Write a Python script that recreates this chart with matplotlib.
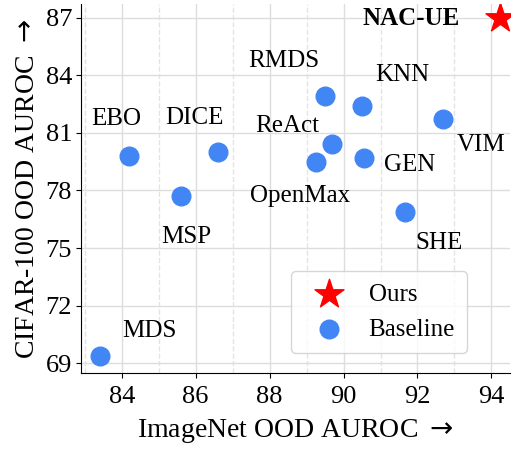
import matplotlib.pyplot as plt
from matplotlib.ticker import MultipleLocator

plt.rcParams['font.family'] = ['Liberation Serif', 'DejaVu Sans']
plt.rcParams['mathtext.fontset'] = 'dejavusans'

# Baseline methods: ImageNet AUROC, CIFAR-100 AUROC
names = ['EBO', 'DICE', 'MSP', 'MDS', 'RMDS', 'KNN', 'VIM', 'ReAct', 'OpenMax', 'GEN', 'SHE']
imagenet = [84.2, 86.6, 85.6, 83.4, 89.5, 90.5, 92.7, 89.7, 89.25, 90.55, 91.65]
cifar = [79.8, 80.0, 77.7, 69.4, 82.9, 82.4, 81.7, 80.4, 79.5, 79.7, 76.9]
# label offsets in pixels
offsets = [(-13, 37), (-23, 34), (5, -41), (50, 25), (-41, 35), (40, 31),
           (38, -26), (-45, 18), (-16, -34), (46, -7), (34, -31)]

ours_x, ours_y = 94.24, 87.0

fig = plt.figure(figsize=(5.23, 4.5), dpi=100)
ax = fig.add_axes([0.155, 0.171, 0.82, 0.82])

ax.scatter([ours_x], [ours_y], s=480, marker='*', color='#FF0000', label='Ours', zorder=3)
ax.scatter(imagenet, cifar, s=180, color='#4285F4', label='Baseline', zorder=3)

for n, x, y, (dx, dy) in zip(names, imagenet, cifar, offsets):
    ax.annotate(n, (x, y), xytext=(dx, dy), textcoords='offset pixels',
                ha='center', va='center', fontsize=18)
ax.annotate('NAC-UE', (ours_x, ours_y), xytext=(-89, -1), textcoords='offset pixels',
            ha='center', va='center', fontsize=18, fontweight='bold')

ax.set_xlim(82.9, 94.5)
ax.set_ylim(68.5, 87.7)
ax.xaxis.set_major_locator(MultipleLocator(2))
ax.xaxis.set_minor_locator(MultipleLocator(1))
ax.yaxis.set_major_locator(MultipleLocator(3))
ax.grid(which='major', color='#dddddd', lw=1)
ax.grid(which='minor', axis='x', color='#e4e4e4', lw=1, ls='--')
ax.tick_params(which='minor', length=0)
ax.tick_params(labelsize=19, pad=3)
ax.tick_params(axis='x', pad=6)
for s in ['top', 'right']:
    ax.spines[s].set_visible(False)

ax.set_xlabel(r'ImageNet OOD AUROC $\rightarrow$', fontsize=20, labelpad=6)
ax.set_ylabel(r'CIFAR-100 OOD AUROC $\rightarrow$', fontsize=20, labelpad=4)
ax.legend(loc='lower right', fontsize=18, bbox_to_anchor=(0.93, 0.02),
          handletextpad=0.6, borderpad=0.5)

plt.savefig('out.png')
